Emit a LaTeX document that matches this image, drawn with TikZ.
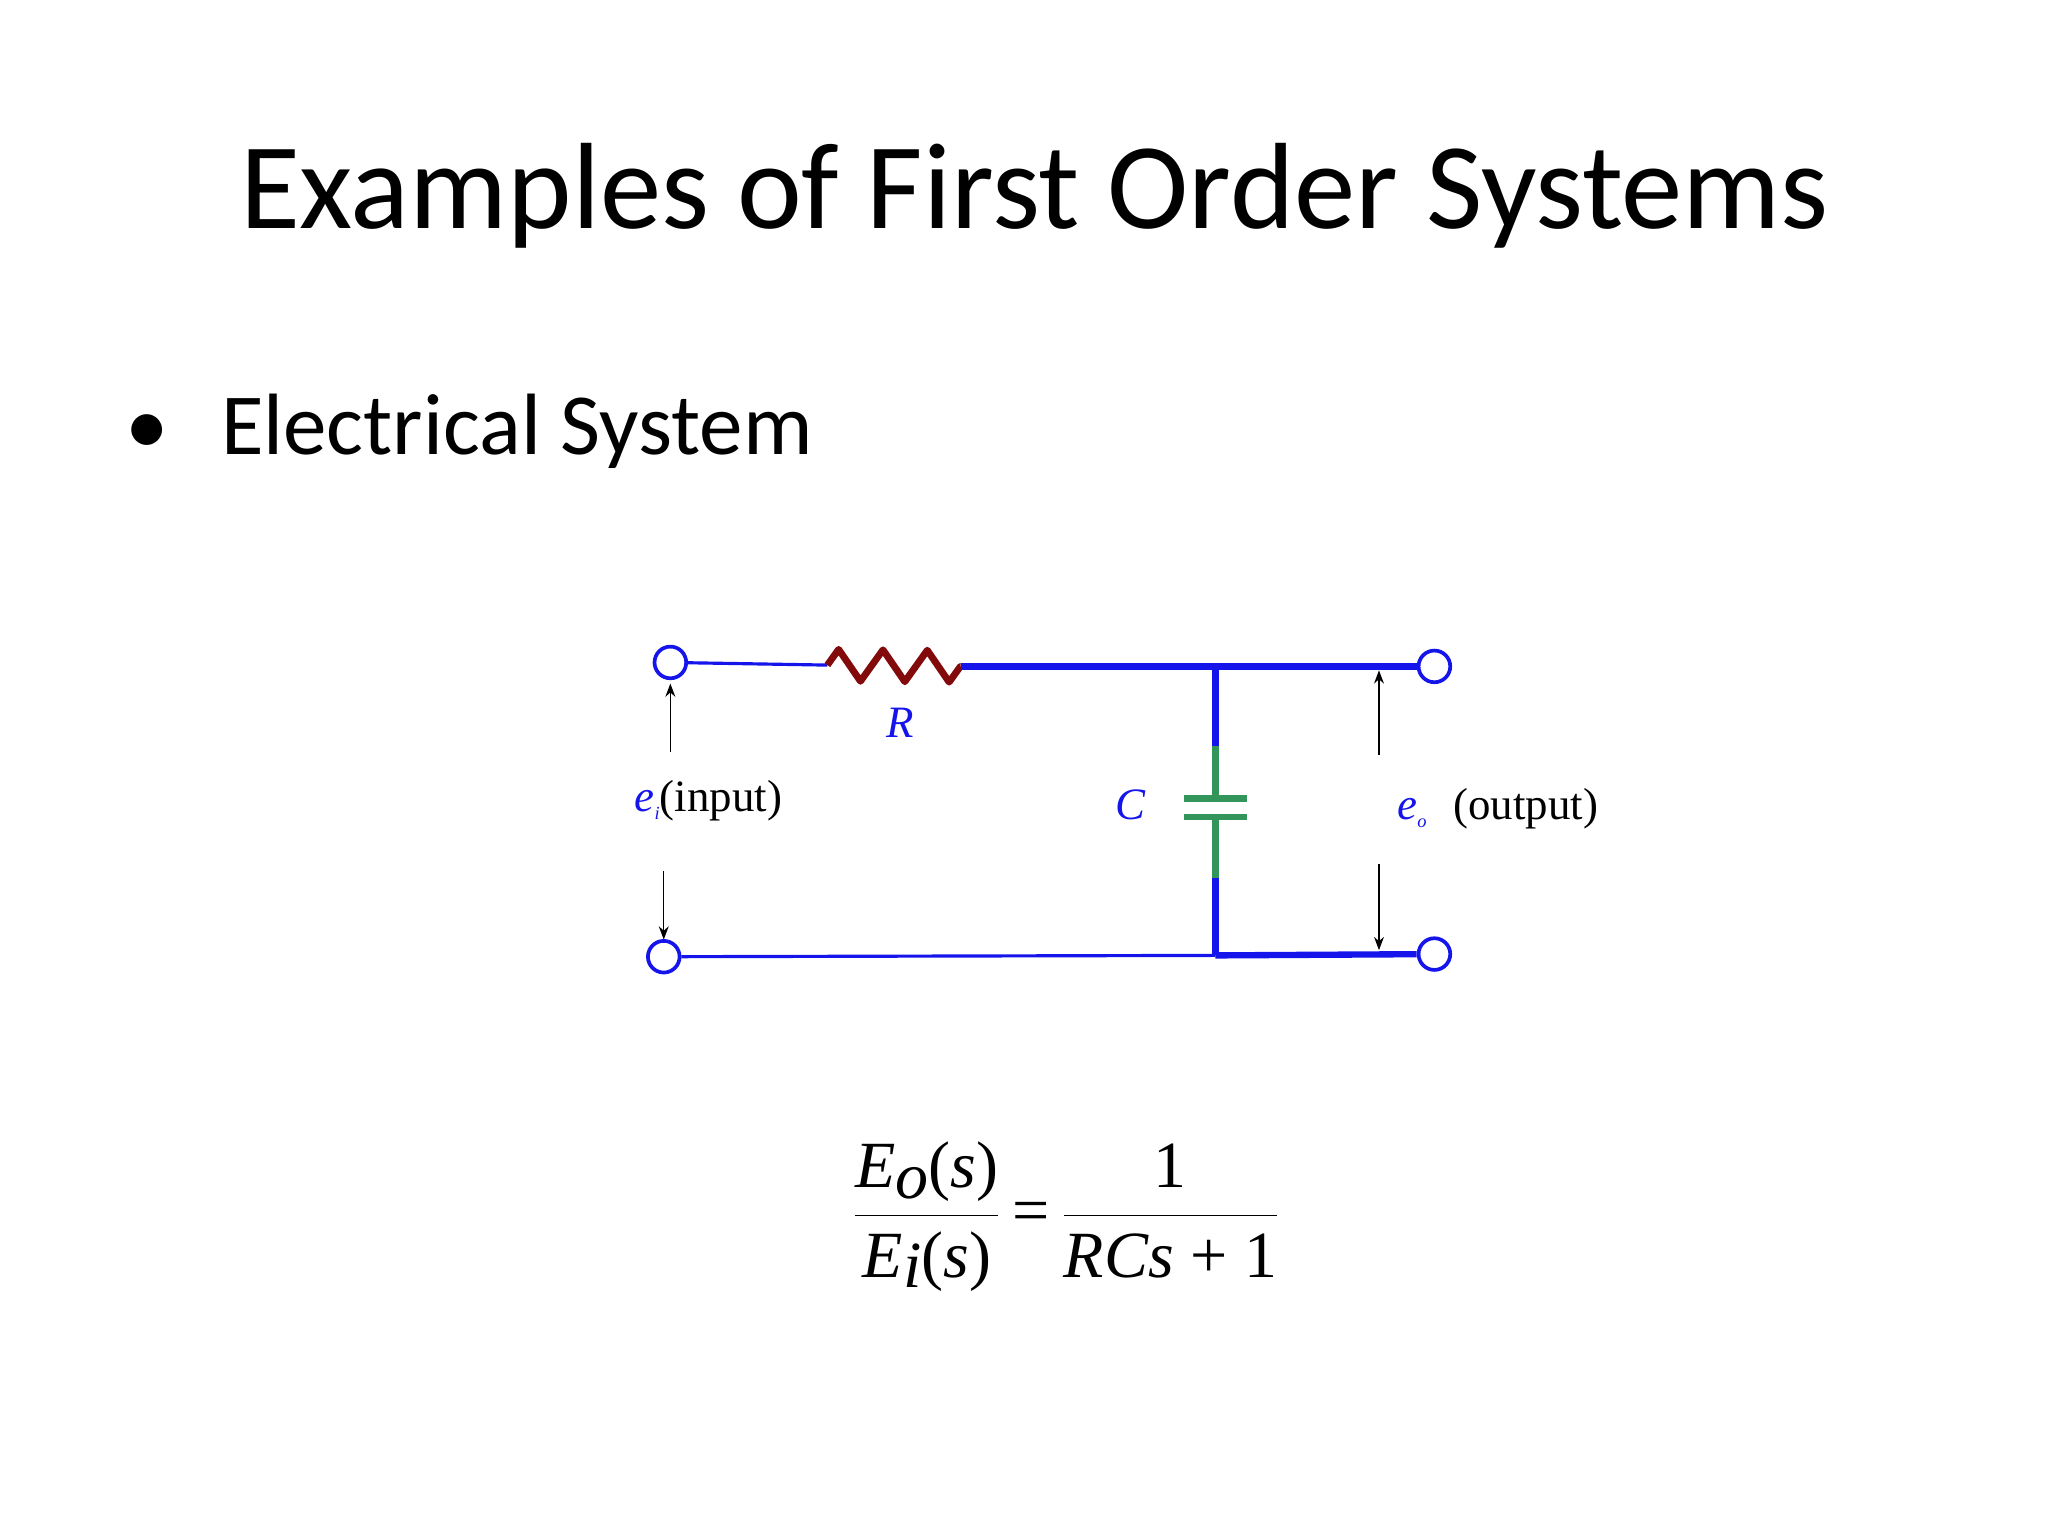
\documentclass[tikz,border=0pt]{standalone}
\usepackage{fontspec}
\setmainfont{Carlito}
\newfontfamily\serifx{Liberation Serif}
\usetikzlibrary{arrows.meta,decorations.pathmorphing}
\definecolor{wblue}{RGB}{20,20,235}
\definecolor{rbrown}{RGB}{130,10,10}
\definecolor{cgreen}{RGB}{50,150,90}
\tikzset{thinw/.style={wblue,line width=1.2pt},thickw/.style={wblue,line width=2.4pt},
term/.style={circle,draw=wblue,line width=1.4pt,minimum size=12pt,inner sep=0pt},
varr/.style={-{Stealth[length=5pt]},line width=0.5pt},
lab/.style={wblue,font=\fontsize{17}{20}\selectfont\serifx\itshape}}
\newcommand{\myit}[1]{\textit{#1}}
\begin{document}
\begin{tikzpicture}[x=0.5pt,y=-0.5pt]
\useasboundingbox (0,0) rectangle (1552,1164);
\node[font=\fontsize{46.5}{56}\selectfont] (title) at (784,148) {Examples of First Order Systems};
\node[font=\fontsize{33}{40}\selectfont,anchor=west] (b) at (88,327) {\textbullet\hspace{0.6em}Electrical System};
\node[term] (t1) at (508,502) {};
\node[term] (t2) at (1087,505) {};
\node[term] (t3) at (503,725) {};
\node[term] (t4) at (1087,723) {};
\coordinate (r1) at (627,504); \coordinate (r2) at (728,505);
\coordinate (j1) at (921,505); \coordinate (j2) at (921,724);
\draw[thinw] (t1) -- (r1);
\draw[rbrown,line width=2.6pt,line join=round,decorate,decoration={zigzag,segment length=16.8pt,amplitude=6pt}] (r1) -- (r2);
\draw[thickw] (r2) -- (t2);
\draw[thinw] (t3) -- (j2);
\draw[thickw] (j2) -- (t4);
\draw[thickw] (j1) -- (921,565);
\draw[cgreen,line width=2.4pt] (921,565) -- (921,605) (897,605) -- (945,605) (897,619) -- (945,619) (921,619) -- (921,665);
\draw[thickw] (921,665) -- (j2);
\draw[varr] (508,570) -- (508,518);
\draw[varr] (503,660) -- (503,712);
\draw[varr] (1045,572) -- (1045,508);
\draw[varr] (1045,655) -- (1045,720);
\node[lab] (R) at (682,548) {R};
\node[lab] (C) at (857,610) {C};
\node[anchor=west,font=\fontsize{17}{20}\selectfont\serifx] (ei) at (474,607) {\textcolor{wblue}{\textit{e}\raisebox{-3pt}{\scriptsize\textit{i}}}(input)};
\node[anchor=west,font=\fontsize{17}{20}\selectfont\serifx] (eo) at (1052,613) {\textcolor{wblue}{\textit{e}\raisebox{-3pt}{\scriptsize\textit{o}}}\hspace{0.6em}(output)};
\node[font=\fontsize{25}{30}\selectfont\serifx] (eq) at (808,922) {$\displaystyle\frac{\hbox{\myit{E}\raisebox{-4pt}{\myit{o}}(\myit{s})}}{\hbox{\myit{E}\raisebox{-4pt}{\myit{i}}(\myit{s})}}\,\hbox{=}\,\frac{\hbox{1}}{\hbox{\myit{RCs} + 1}}$};
\end{tikzpicture}
\end{document}
